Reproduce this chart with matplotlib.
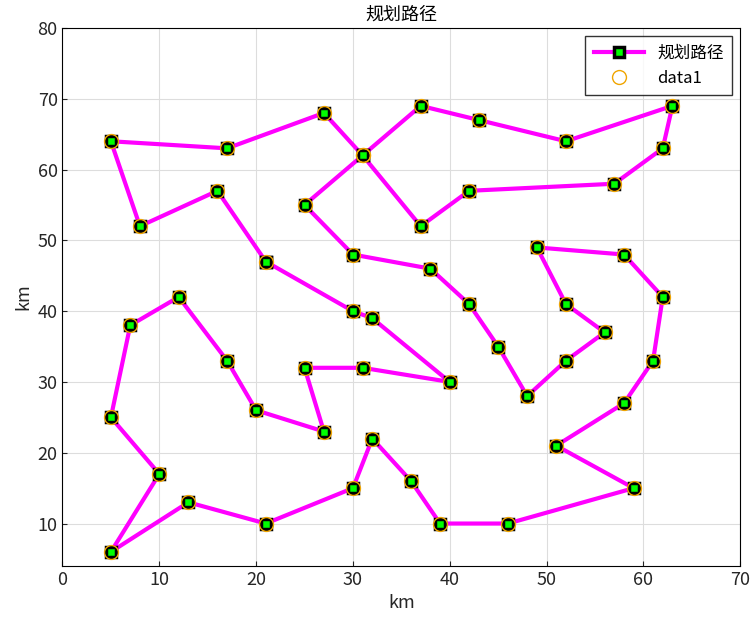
import matplotlib
matplotlib.use("Agg")
import matplotlib.pyplot as plt

plt.rcParams['font.family'] = ['Noto Sans CJK SC', 'DejaVu Sans']

route_x = [21,30,32,40,31,25,27,20,17,12,7,5,10,5,13,21,30,32,36,39,46,59,51,58,61,62,58,49,52,56,52,48,45,42,38,30,25,31,37,43,52,63,62,57,42,37,31,27,17,5,8,16,21]
route_y = [47,40,39,30,32,32,23,26,33,42,38,25,17,6,13,10,15,22,16,10,10,15,21,27,33,42,48,49,41,37,33,28,35,41,46,48,55,62,69,67,64,69,63,58,57,52,62,68,63,64,52,57,47]

fig, ax = plt.subplots(figsize=(7.53, 6.22), dpi=100)
fig.subplots_adjust(left=0.083, right=0.983, top=0.955, bottom=0.09)
ax.plot(route_x, route_y, '-s', color='#ff00ff', lw=3, ms=7,
        mec='black', mfc='#00ff00', mew=2.5, label='规划路径')
ax.plot(route_x[:-1], route_y[:-1], 'o', ls='none', mfc='none', mec='#f0a500', ms=10, mew=1, label='data1')
ax.set_xlim(0, 70)
ax.set_ylim(4, 80)
ax.set_xticks(range(0, 71, 10))
ax.set_yticks(range(10, 81, 10))
ax.grid(True, color='#dddddd', lw=0.8)
ax.tick_params(labelsize=13, direction='in', colors='#262626')
ax.set_xlabel('km', fontsize=13, color='#262626')
ax.set_ylabel('km', fontsize=13, color='#262626')
ax.set_title('规划路径', fontsize=13)
ax.legend(loc='upper right', fontsize=12, fancybox=False, edgecolor='black', borderpad=0.5, handlelength=3)
fig.savefig('out.png')
